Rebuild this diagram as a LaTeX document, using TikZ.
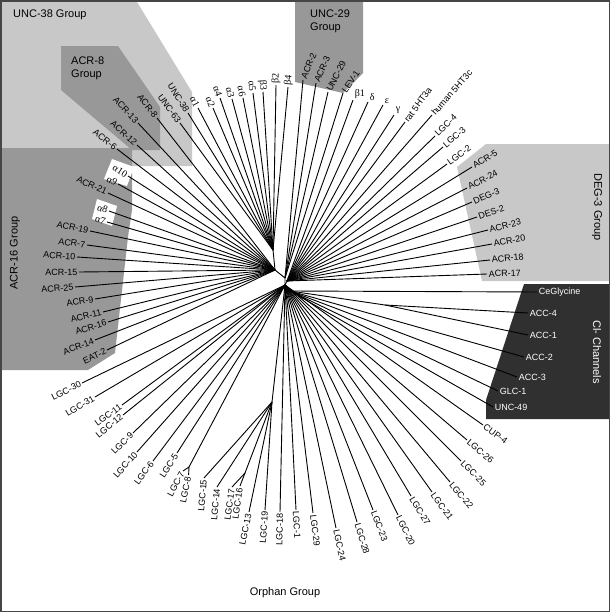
\documentclass[tikz,border=0pt]{standalone}
\usepackage{fontspec}
\setmainfont{Liberation Sans}
\newfontfamily\grk{Liberation Serif}
\definecolor{lgray}{RGB}{200,200,200}
\definecolor{mgray}{RGB}{152,152,152}
\definecolor{dgray}{RGB}{48,48,48}
\definecolor{framec}{RGB}{70,70,70}
\newdimen\hubx
% sloped leaf: [opts]{parent}{name}{x}{y}{text}
\newcommand\lf[6][]{%
  \coordinate (#3) at (#4,#5);%
  \pgfextractx{\hubx}{\pgfpointanchor{#2}{center}}%
  \ifdim #4pt<\hubx\relax\def\anc{east}\else\def\anc{west}\fi
  \draw[br] (#2) -- (#3) node[lab,sloped,pos=1,anchor=\anc,#1] (t#3) {#6};%
}
% horizontal leaf: [opts]{parent}{name}{x}{y}{anchor}{text}
\newcommand\lfh[7][]{%
  \coordinate (#3) at (#4,#5);%
  \draw[br] (#2) -- (#3) node[lab,pos=1,anchor=#6,#1] (t#3) {#7};%
}
% rotated leaf: [opts]{parent}{name}{x}{y}{rotate}{anchor}{text}
\newcommand\lfr[8][]{%
  \coordinate (#3) at (#4,#5);%
  \draw[br] (#2) -- (#3) node[lab,pos=1,rotate=#6,anchor=#7,#1] (t#3) {#8};%
}
\begin{document}
\begin{tikzpicture}[x=1pt,y=-1pt,
  br/.style={line width=0.9pt, black},
  lab/.style={font=\fontsize{9}{10}\selectfont, inner sep=1.3pt},
  gk/.style={font=\grk\fontsize{10}{11}\selectfont},
  grp/.style={font=\fontsize{11}{13}\selectfont, inner sep=0pt},
  wl/.style={text=white}]
\useasboundingbox (0,0) rectangle (611,613);
% group areas
\fill[lgray] (2,2) -- (137,2) -- (192,92) -- (192,166) -- (2,166) -- cycle;
\fill[mgray] (61,46) -- (118,46) -- (160,107) -- (160,150) -- (132,150) -- (61,90) -- cycle;
\fill[mgray] (2,148) -- (132,148) -- (132,210) -- (128,237) -- (115,353) -- (88,370) -- (2,370) -- cycle;
\fill[white] (112,159) -- (134,167) -- (127,186) -- (104,179) -- cycle;
\fill[white] (97,199) -- (117,206) -- (112,226) -- (92,219) -- cycle;
\fill[mgray] (295,2) -- (363,2) -- (363,73) -- (343,93) -- (295,82) -- cycle;
\fill[lgray] (486,144) -- (609,144) -- (609,281) -- (482,281) -- (457,167) -- cycle;
\fill[dgray] (524,284) -- (609,284) -- (609,419) -- (486,419) -- (486,400) -- cycle;
\draw[framec, line width=1.8pt] (1,1) rectangle (609.5,611.5);
% group labels
\node[grp, anchor=west] (gUNC38) at (13,15) {UNC-38 Group};
\node[grp, align=left, anchor=north west] (gACR8) at (71,57) {ACR-8\\Group};
\node[grp, align=left, anchor=north west] (gUNC29) at (310,10) {UNC-29\\Group};
\node[grp, rotate=-90] (gDEG3) at (597,207) {DEG-3 Group};
\node[grp, rotate=-90, text=white] (gCl) at (597,352) {Cl- Channels};
\node[grp, rotate=90] (gACR16) at (15,253) {ACR-16 Group};
\node[grp] (gOrph) at (285,593) {Orphan Group};
% internal nodes
\coordinate (C) at (285,285);
\coordinate (HM) at (285,278);
\coordinate (HL) at (275,270);
\coordinate (HT) at (273,250);
\coordinate (HR) at (287,281);
\coordinate (HCl) at (290,291);
\coordinate (HA) at (385,305);
\coordinate (HB2) at (272,402);
\coordinate (N78) at (189,467);
\coordinate (N1716) at (245,473);
\draw[br] (HT) -- (HL) -- (HM) -- (C);
\draw[br] (HR) -- (C);
\draw[br] (HCl) -- (C);
\draw[br] (HA) -- (HCl);
\draw[br] (HB2) -- (C);
\draw[br] (N78) -- (C);
\draw[br] (N1716) -- (HB2);
% top hub
\lf{HT}{unc38}{188}{113}{UNC-38}
\lf{HT}{unc63}{180}{123}{UNC-63}
\lf[gk]{HT}{al1}{198}{108}{α1}
\lf[gk]{HT}{al2}{213}{108}{α2}
\lf[gk]{HT}{al4}{220}{98}{α4}
\lf[gk]{HT}{al3}{232}{99}{α3}
\lf[gk]{HT}{al6}{243}{98}{α6}
\lf[gk]{HT}{al5}{253}{93}{α5}
\lf[gk]{HT}{be3}{263}{92}{β3}
\lf[gk]{HT}{be2}{276}{85}{β2}
\lf[gk]{HT}{be4}{288}{87}{β4}
% left hub
\lf{HL}{acr8}{157}{118}{ACR-8}
\lf{HL}{acr13}{138}{123}{ACR-13}
\lf{HL}{acr12}{137}{145}{ACR-12}
\lf{HL}{acr6}{117}{149}{ACR-6}
\lf[gk]{HL}{al10}{128}{176}{α10}
\lf[gk]{HL}{al9}{118}{184}{α9}
\lf{HL}{acr21}{108}{193}{ACR-21}
\lf[gk]{HL}{al8}{109}{211}{α8}
\lf[gk]{HL}{al7}{107}{222}{α7}
\lf{HL}{acr19}{90}{231}{ACR-19}
\lf{HL}{acr7}{87}{245}{ACR-7}
\lf{HL}{acr10}{77}{257}{ACR-10}
\lf{HL}{acr15}{79}{272}{ACR-15}
\lf{HL}{acr25}{75}{287}{ACR-25}
\lf{HL}{acr9}{95}{299}{ACR-9}
\lf{HL}{acr11}{103}{312}{ACR-11}
\lf{HL}{acr16}{108}{322}{ACR-16}
\lf{HL}{acr14}{95}{340}{ACR-14}
\lf{HL}{eat2}{107}{350}{EAT-2}
% UNC-29 group
\lfr{HM}{acr2}{303}{80}{68}{west}{ACR-2}
\lfr{HM}{acr3}{316}{83}{66}{west}{ACR-3}
\lfr{HM}{unc29}{328}{92}{63}{west}{UNC-29}
\lfr{HM}{lev1}{343}{93}{56}{west}{LEV-1}
% right hub
\lfh[gk]{HR}{be1}{353}{100}{south west}{β1}
\lfh[gk]{HR}{de}{368}{102}{south west}{δ}
\lfh[gk]{HR}{ep}{383}{105}{south west}{ε}
\lfh[gk]{HR}{ga}{394}{115}{south west}{γ}
\lf{HR}{rat}{405}{122}{rat 5HT3a}
\lf{HR}{hum}{432}{115}{human 5HT3c}
\lf{HR}{lgc4}{435}{136}{LGC-4}
\lf{HR}{lgc3}{443}{147}{LGC-3}
\lf{HR}{lgc2}{447}{164}{LGC-2}
\lf{HR}{acr5}{472}{167}{ACR-5}
\lf{HR}{acr24}{467}{188}{ACR-24}
\lf{HR}{deg3}{472}{202}{DEG-3}
\lf{HR}{des2}{477}{217}{DES-2}
\lf{HR}{acr23}{488}{230}{ACR-23}
\lf{HR}{acr20}{492}{244}{ACR-20}
\lf{HR}{acr18}{490}{260}{ACR-18}
\lf{HR}{acr17}{487}{274}{ACR-17}
% Cl- channels
\lfh[wl]{HCl}{ceg}{537}{292}{west}{CeGlycine}
\lfh[wl]{HA}{acc4}{528}{313}{west}{ACC-4}
\lfh[wl]{HA}{acc1}{528}{335}{west}{ACC-1}
\lfh[wl]{HCl}{acc2}{524}{357}{west}{ACC-2}
\lfh[wl]{HCl}{acc3}{517}{377}{west}{ACC-3}
\lfh[wl]{HCl}{glc1}{498}{391}{west}{GLC-1}
\lfh[wl]{HCl}{unc49}{493}{407}{west}{UNC-49}
% orphans, right
\lf{C}{cup4}{483}{425}{CUP-4}
\lf{C}{lgc26}{467}{440}{LGC-26}
\lf{C}{lgc25}{461}{461}{LGC-25}
\lf{C}{lgc22}{450}{482}{LGC-22}
\lf{C}{lgc21}{432}{492}{LGC-21}
\lf{C}{lgc27}{411}{496}{LGC-27}
\lf{C}{lgc20}{398}{515}{LGC-20}
\lf{C}{lgc23}{373}{510}{LGC-23}
\lf{C}{lgc28}{357}{522}{LGC-28}
\lf{C}{lgc24}{336}{528}{LGC-24}
\lf{C}{lgc29}{313}{513}{LGC-29}
\lf{C}{lgc1}{296}{510}{LGC-1}
\lf{C}{lgc18}{280}{512}{LGC-18}
% orphans, bottom cluster
\lf{HB2}{lgc19}{265}{510}{LGC-19}
\lf{HB2}{lgc13}{249}{512}{LGC-13}
\lfr{HB2}{lgc15}{204}{478}{85}{east}{LGC-15}
\lfr{HB2}{lgc14}{217}{487}{85}{east}{LGC-14}
\lfr{N1716}{lgc17}{232}{487}{82}{east}{LGC-17}
\lfr{N1716}{lgc16}{240}{486}{82}{east}{LGC-16}
\lfr{N78}{lgc7}{183}{471}{62}{east}{LGC-7}
\lfr{N78}{lgc8}{188.6}{475}{78}{east}{LGC-8}
% orphans, left
\lf{C}{lgc5}{177}{453}{LGC-5}
\lf{C}{lgc6}{153}{461}{LGC-6}
\lf{C}{lgc10}{137}{452}{LGC-10}
\lf{C}{lgc9}{133}{433}{LGC-9}
\lf{C}{lgc12}{123}{415}{LGC-12}
\lf{C}{lgc11}{122}{405}{LGC-11}
\lf{C}{lgc31}{95}{397}{LGC-31}
\lf{C}{lgc30}{82}{383}{LGC-30}
\end{tikzpicture}
\end{document}
